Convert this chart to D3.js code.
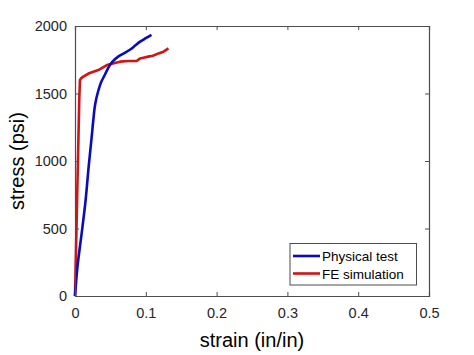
<!DOCTYPE html>
<html><head><meta charset="utf-8">
<script src="https://cdn.jsdelivr.net/npm/d3@7"></script>
<style>body{margin:0;background:#fff}svg{display:block}text{font-family:"Liberation Sans",Arial,sans-serif}</style>
</head><body>
<svg id="c" width="474" height="355"></svg>
<script>
const xTicks = [0, 0.1, 0.2, 0.3, 0.4, 0.5];
const yTicks = [0, 500, 1000, 1500, 2000];
const physStrain = [0, 0.0015, 0.0035, 0.0094, 0.015, 0.0193, 0.0236, 0.0258, 0.0285, 0.0325, 0.037, 0.042, 0.047, 0.052, 0.061, 0.070, 0.078, 0.085, 0.092, 0.100, 0.108];
const physStress = [0, 100, 217, 464, 711, 958, 1180, 1300, 1420, 1513, 1585, 1637, 1690, 1730, 1773, 1800, 1826, 1855, 1884, 1910, 1935];
const feStrain = [0, 0.002, 0.004, 0.006, 0.007, 0.0085, 0.0117, 0.020, 0.033, 0.045, 0.0636, 0.075, 0.087, 0.092, 0.0965, 0.1035, 0.110, 0.118, 0.125, 0.132];
const feStress = [0, 480, 960, 1452, 1600, 1612, 1625, 1650, 1674, 1711, 1736, 1741, 1741, 1760, 1765, 1773, 1780, 1797, 1810, 1834];
const seriesNames = ["Physical test", "FE simulation"];
const colors = ["#0a0ac0", "#d21414"];

const svg = d3.select("#c");
const L = 75, R = 429, T = 26, B = 296;
const x = d3.scaleLinear().domain([0, 0.5]).range([L, R]);
const y = d3.scaleLinear().domain([0, 2000]).range([B, T]);
const ax = "#4d4d4d";

const lineBlue = d3.line().x(d => x(d[0])).y(d => y(d[1])).curve(d3.curveMonotoneY);
const lineRed = d3.line().x(d => x(d[0])).y(d => y(d[1]));
const series = [d3.zip(physStrain, physStress), d3.zip(feStrain, feStress)];

svg.append("path").datum(series[1]).attr("d", lineRed).attr("fill", "none").attr("stroke", colors[1]).attr("stroke-width", 2.6).attr("stroke-linejoin", "round");
svg.append("path").datum(series[0]).attr("d", lineBlue).attr("fill", "none").attr("stroke", colors[0]).attr("stroke-width", 2.6).attr("stroke-linejoin", "round");

// axes
const fmt = d => String(d);
const gx = svg.append("g").attr("transform", `translate(0,${B})`).call(d3.axisBottom(x).tickValues(xTicks).tickFormat(fmt).tickSize(-4).tickPadding(12));
const gxt = svg.append("g").attr("transform", `translate(0,${T})`).call(d3.axisTop(x).tickValues(xTicks).tickFormat("").tickSize(-4));
const gy = svg.append("g").attr("transform", `translate(${L},0)`).call(d3.axisLeft(y).tickValues(yTicks).tickFormat(fmt).tickSize(-4).tickPadding(8));
const gyr = svg.append("g").attr("transform", `translate(${R},0)`).call(d3.axisRight(y).tickValues(yTicks).tickFormat("").tickSize(-4));
[gx, gxt, gy, gyr].forEach(g => {
  g.select(".domain").attr("stroke", ax).attr("stroke-width", 1.2);
  g.selectAll(".tick line").attr("stroke", ax).attr("stroke-width", 1);
  g.selectAll(".tick text").attr("fill", "#262626").attr("font-size", 14.5);
});

svg.append("text").attr("x", (L + R) / 2).attr("y", 347).attr("text-anchor", "middle").attr("font-size", 20).attr("fill", "#000").text("strain (in/in)");
svg.append("text").attr("transform", `translate(24,${(T + B) / 2}) rotate(-90)`).attr("text-anchor", "middle").attr("font-size", 20).attr("fill", "#000").text("stress (psi)");

// legend
const lg = svg.append("g");
lg.append("rect").attr("x", 290).attr("y", 243.5).attr("width", 126.5).attr("height", 41.5).attr("fill", "#fff").attr("stroke", ax).attr("stroke-width", 1);
seriesNames.forEach((n, i) => {
  const yy = 256 + i * 17.5;
  lg.append("line").attr("x1", 293).attr("x2", 320).attr("y1", yy).attr("y2", yy).attr("stroke", colors[i]).attr("stroke-width", 2.6);
  lg.append("text").attr("x", 322).attr("y", yy + 5).attr("font-size", 13.5).attr("fill", "#000").text(n);
});
</script>
</body></html>
